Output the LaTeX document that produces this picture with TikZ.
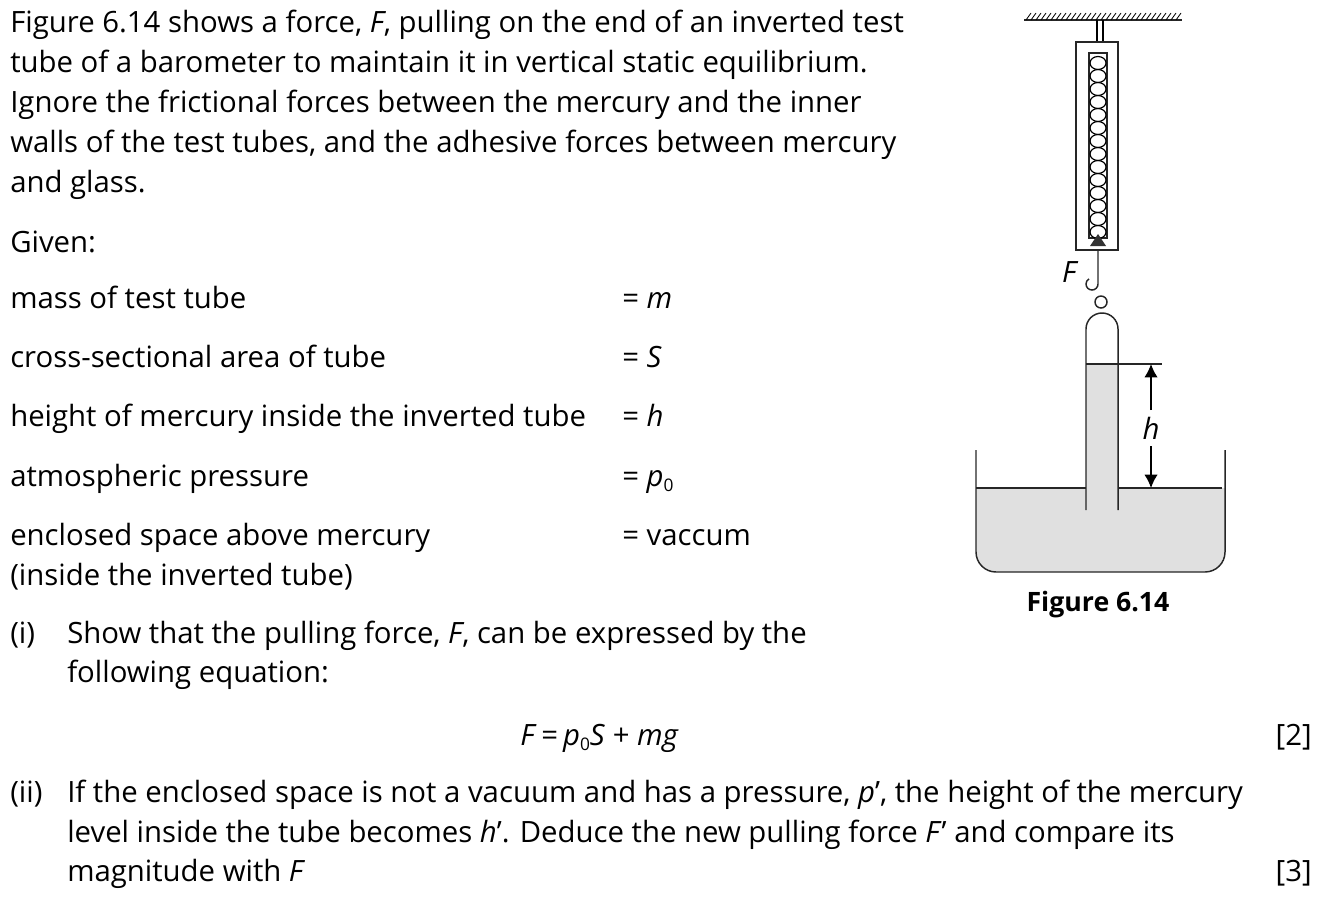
\documentclass[tikz,border=0pt]{standalone}
\usetikzlibrary{arrows.meta}
\usepackage{fontspec}
\setmainfont{Open Sans}
\begin{document}
\begin{tikzpicture}[x=0.75pt,y=-0.75pt,
 tx/.style={anchor=base west,inner sep=0,font=\fontsize{22}{24}\selectfont},
 tr/.style={anchor=base east,inner sep=0,font=\fontsize{22}{24}\selectfont},
 ln/.style={line width=1.1pt,draw=black!85}]
\useasboundingbox (0,0) rectangle (1334,900);
\newcommand{\pz}{\textit{p}\raisebox{-0.35ex}{\fontsize{13}{13}\selectfont 0}}
% text
\node[tx] (l1) at (10,32) {Figure 6.14 shows a force, \textit{F}, pulling on the end of an inverted test};
\node[tx] (l2) at (10,72) {tube of a barometer to maintain it in vertical static equilibrium.};
\node[tx] (l3) at (10,112) {Ignore the frictional forces between the mercury and the inner};
\node[tx] (l4) at (10,152) {walls of the test tubes, and the adhesive forces between mercury};
\node[tx] (l5) at (10,192) {and glass.};
\node[tx] (g) at (10,252) {Given:};
\node[tx] (a1) at (10,308) {mass of test tube};
\node[tx] (a2) at (10,367) {cross-sectional area of tube};
\node[tx] (a3) at (10,426) {height of mercury inside the inverted tube};
\node[tx] (a4) at (10,486) {atmospheric pressure};
\node[tx] (a5) at (10,545) {enclosed space above mercury};
\node[tx] (a6) at (10,585) {(inside the inverted tube)};
\node[tx] (b1) at (622,308) {= \textit{m}};
\node[tx] (b2) at (622,367) {= \textit{S}};
\node[tx] (b3) at (622,426) {= \textit{h}};
\node[tx] (b4) at (622,486) {= \pz};
\node[tx] (b5) at (622,545) {= vaccum};
\node[tx] (i) at (10,643) {(i)};
\node[tx] (i1) at (67,643) {Show that the pulling force, \textit{F}, can be expressed by the};
\node[tx] (i2) at (67,682) {following equation:};
\node[tx] (eq) at (520,745) {\textit{F}\,=\,\pz\textit{S} + \textit{mg}};
\node[tr] (m2) at (1312,745) {[2]};
\node[tx] (ii) at (10,802) {(ii)};
\node[tx] (ii1) at (67,802) {If the enclosed space is not a vacuum and has a pressure, \textit{p}’, the height of the mercury};
\node[tx] (ii2) at (67,842) {level inside the tube becomes \textit{h}’. Deduce the new pulling force \textit{F}’ and compare its};
\node[tx] (ii3) at (67,881) {magnitude with \textit{F}};
\node[tr] (m3) at (1312,881) {[3]};
% ceiling
\draw[ln] (1024,20) -- (1182,20);
\foreach \x in {1026,1031,...,1176} \draw[line width=0.6pt] (\x,20) -- (\x+5,13);
\draw[line width=0.8pt] (1097,20) -- (1097,42) (1103,20) -- (1103,42);
% spring balance
\draw[ln] (1076,42) rectangle (1118,250);
\draw[ln] (1089,53) rectangle (1107,238);
\foreach \k in {0,...,13} \draw[line width=0.9pt] (1098,63+\k*13) ellipse (8 and 6.5);
\fill[black!80] (1098,234) -- (1090,246) -- (1106,246) -- cycle;
\draw[ln] (1098,250) -- (1098,284) arc (0:240:6);
\draw[ln] (1101,302) circle (6);
\node[anchor=center,inner sep=0,font=\fontsize{22}{24}\selectfont\itshape] (F) at (1069,272) {F};
% mercury
\fill[black!12] (976,488) -- (976,552) arc (180:90:20) -- (1205,572) arc (90:0:20) -- (1225,488) -- cycle;
\fill[black!12] (1086,364) rectangle (1118,488);
\draw[ln] (976,450) -- (976,552) arc (180:90:20) -- (1205,572) arc (90:0:20) -- (1225,450);
\draw[ln] (976,488) -- (1086,488) (1118,488) -- (1222,488);
% tube
\draw[ln] (1086,510) -- (1086,329) arc (180:360:16) -- (1118,510);
\draw[ln] (1086,364) -- (1162,364);
\coordinate (t) at (1151,364); \coordinate (bb) at (1151,488);
\node[anchor=center,inner sep=0,font=\fontsize{22}{24}\selectfont\itshape] (h) at (1151,428) {h};
\draw[line width=1pt,-{Latex[length=10pt,width=10pt]}] (1151,410) -- (t);
\draw[line width=1pt,-{Latex[length=10pt,width=10pt]}] (1151,446) -- (bb);
\node[anchor=center,inner sep=0,font=\fontsize{20}{22}\selectfont\bfseries] (cap) at (1098,605) {Figure 6.14};
\end{tikzpicture}
\end{document}
